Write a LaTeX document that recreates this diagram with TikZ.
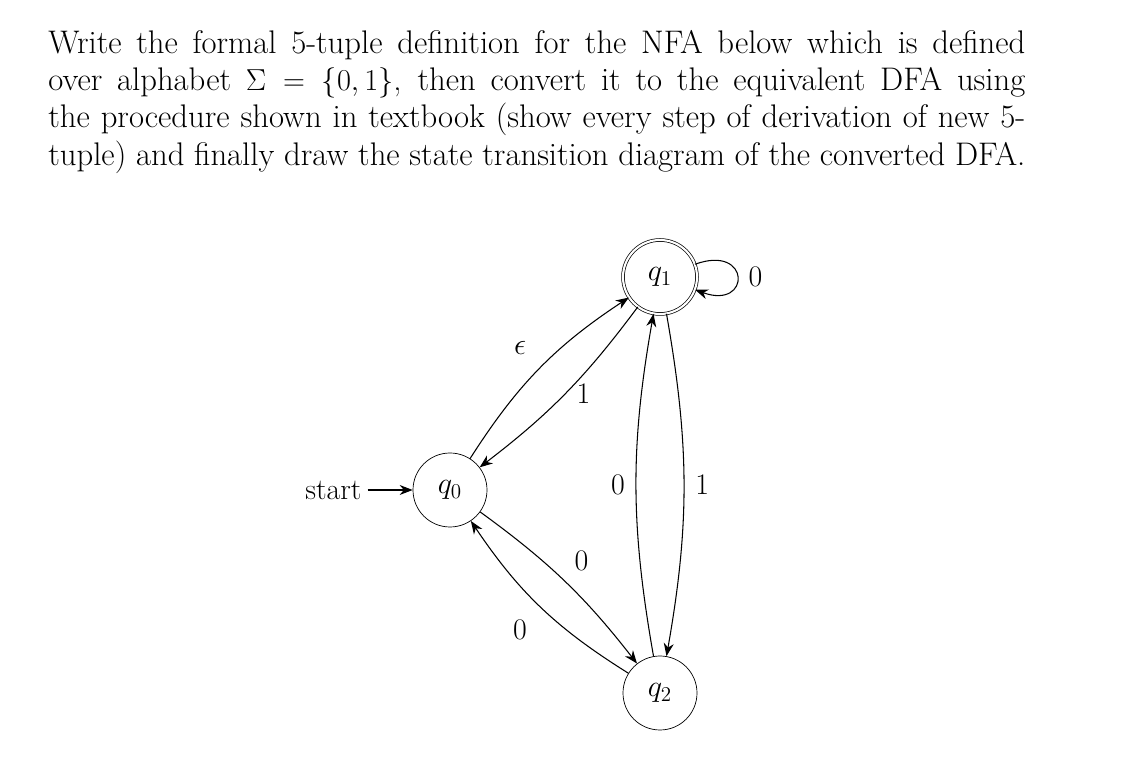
\documentclass[tikz,border=0pt]{standalone}
\usepackage{amsmath,amssymb}
\usetikzlibrary{arrows.meta,positioning}

\tikzset{
  stateq/.style={draw, circle, minimum size=14.8mm, inner sep=0pt, font=\fontsize{17}{20}\selectfont},
  edge/.style={-{Stealth[length=2.6mm,width=2mm]}, semithick},
  lbl/.style={font=\fontsize{17}{20}\selectfont}
}

\begin{document}
\begin{tikzpicture}
\useasboundingbox (0,0) rectangle (22.88,-15.28);
% Problem text
\node[anchor=north west, inner sep=0pt, text width=19.54cm, align=justify,
      font=\fontsize{18.6}{21.2}\selectfont] (task) at (0.96,-0.6)
  {Write the formal 5-tuple definition for the NFA below which is defined over alphabet $\Sigma=\{0,1\}$, then convert it to the equivalent DFA using the procedure shown in textbook (show every step of derivation of new 5-\linebreak tuple) and finally draw the state transition diagram of the converted DFA.};

% States
\node[stateq] (q0) at (9.0,-9.8) {$q_0$};
\node[stateq, double, double distance=1.2pt] (q1) at (13.2,-5.54) {$q_1$};
\node[stateq] (q2) at (13.2,-13.86) {$q_2$};
\node[lbl, left=9mm of q0] (start) {start};

% Transitions
\draw[edge] (start) -- (q0);
\draw[edge] (q0) to[bend left=12] node[lbl, above left=2mm] {$\epsilon$} (q1);
\draw[edge] (q1) to[bend left=8] node[lbl, right=1mm] {1} (q0);
\draw[edge] (q0) to[bend left=8] node[lbl, above right=1mm] {0} (q2);
\draw[edge] (q2) to[bend left=12] node[lbl, below left=2mm] {0} (q0);
\draw[edge] (q1) to[bend left=10] node[lbl, right=1mm] {1} (q2);
\draw[edge] (q2) to[bend left=10] node[lbl, left=1mm] {0} (q1);
\draw[edge] (q1.20) to[out=20, in=-20, looseness=6] node[lbl, right=1mm] {0} (q1.-20);
\end{tikzpicture}
\end{document}
